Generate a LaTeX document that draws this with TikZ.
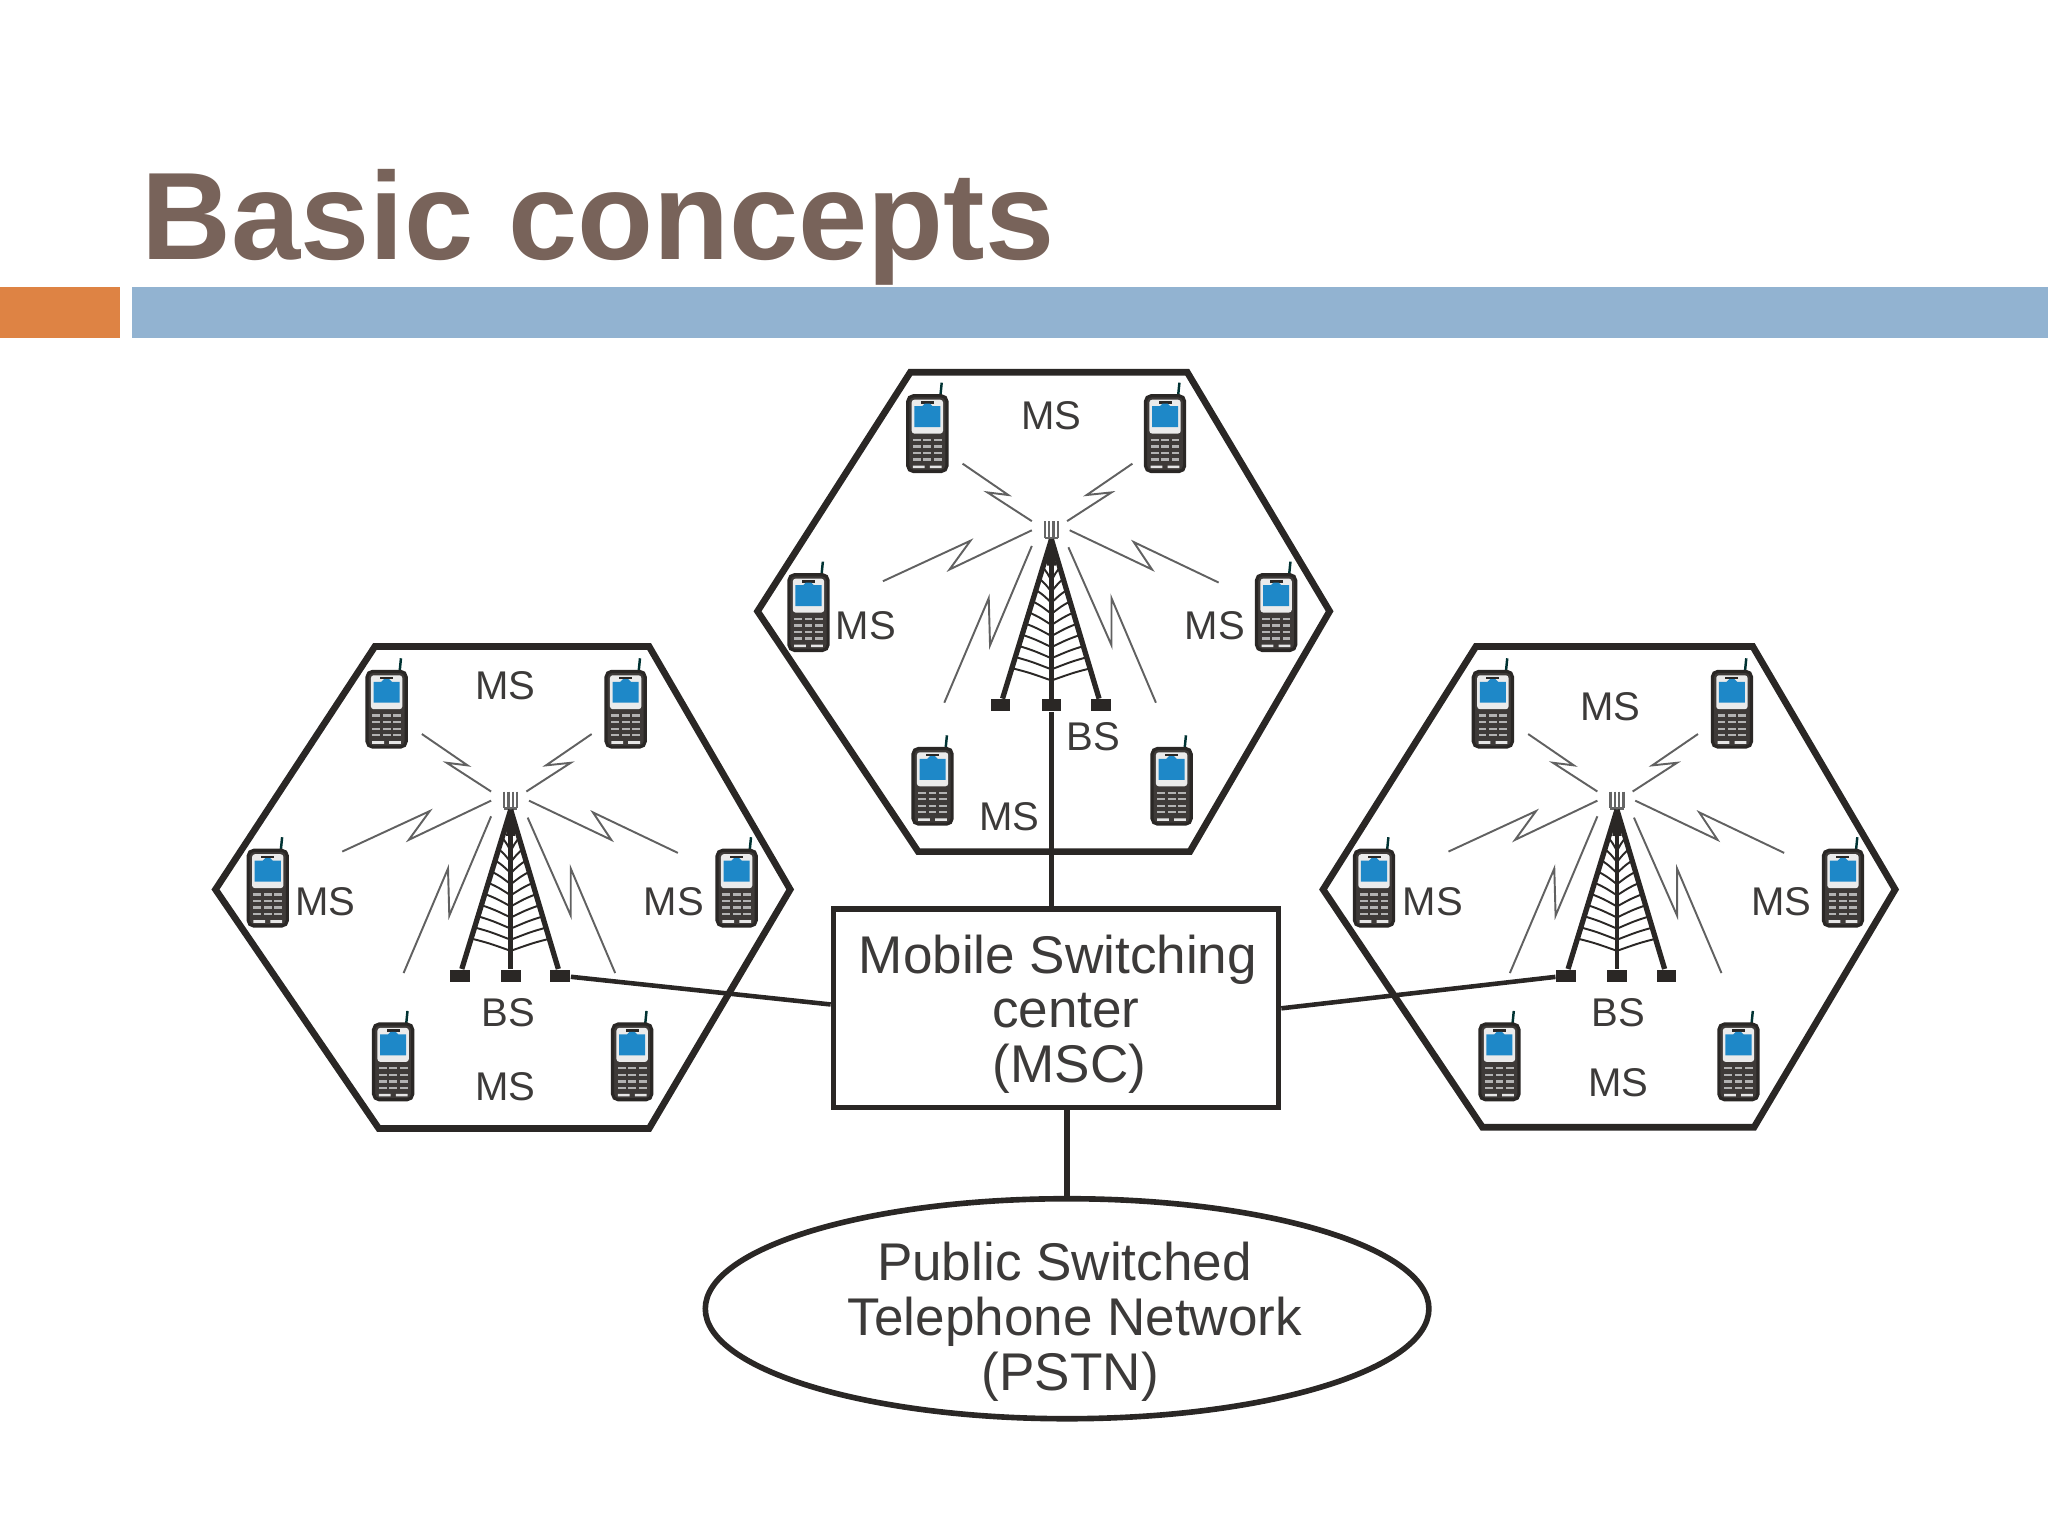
\documentclass[tikz,border=0pt]{standalone}
\usepackage{fontspec}
\setmainfont{Liberation Sans}
\usetikzlibrary{shapes.geometric}
\definecolor{titlebrown}{HTML}{78635A}
\definecolor{barorange}{HTML}{DE8344}
\definecolor{barblue}{HTML}{92B3D1}
\definecolor{inkdark}{HTML}{2A2725}
\definecolor{txtgray}{HTML}{3C3A39}
\definecolor{screenblue}{HTML}{1E88C8}
\definecolor{keypadgray}{HTML}{3E3A38}
\tikzset{
  cellline/.style={draw=inkdark, line width=1.9pt, line join=miter},
  link/.style={draw=black!62, line width=0.55pt},
  wire/.style={draw=inkdark, line width=1.3pt},
  lbl/.style={text=txtgray, font=\fontsize{11.4}{13.7}\selectfont, inner sep=0pt},
  biglbl/.style={text=txtgray, font=\fontsize{15.1}{15.6}\selectfont, align=center, inner sep=0pt},
  foot/.style={fill=inkdark, draw=none, minimum width=5.6pt, minimum height=3.4pt, inner sep=0pt},
  pics/phone/.style={code={
    \draw[line width=0.7pt, draw=black!60!teal] (10,-29) -- (11,-39);
    \draw[line width=0.9pt, draw=inkdark, fill=keypadgray, rounded corners=1.6pt] (-15,-29) rectangle (15,29);
    \fill[black!8, rounded corners=0.8pt] (-12,-26) rectangle (12,0);
    \fill[inkdark] (-5,-25) rectangle (5,-23);
    \fill[screenblue] (-10,-21) -- (-4,-21) -- (-2,-23) -- (2,-23) -- (4,-21) -- (10,-21) -- (10,-5) -- (-10,-5) -- cycle;
    \foreach \ky in {5,10,15,20}
      \foreach \kx in {-8,0,8}
        \fill[black!30] (\kx-3,\ky-1) rectangle (\kx+3,\ky+0.8);
    \fill[white!90!black] (-11,24.5) rectangle (-2,26.5) (2,24.5) rectangle (11,26.5);
  }},
  % tower with its radio links, origin on the antenna
  pics/tower/.style={code={
    \draw[link] (-68,-50) -- (-33,-26) -- (-49,-28) -- (-15,-6);
    \draw[link] (62,-50) -- (27,-26) -- (46,-28) -- (12,-6);
    \draw[link] (-129,40) -- (-62,9) -- (-78,31) -- (-15,1);
    \draw[link] (128,41) -- (63,10) -- (77,31) -- (14,1);
    \draw[link] (-82,133) -- (-48,53) -- (-47,89) -- (-15,13);
    \draw[link] (80,133) -- (46,53) -- (46,89) -- (13,14);
    \draw[black!60, line width=0.7pt] (-5,-6) -- (-5,7) (-1.7,-6) -- (-1.7,7) (1.7,-6) -- (1.7,7) (5,-6) -- (5,7) (-5,7) -- (5,7);
    \foreach \ry in {22,30.5,...,108}
      \draw[inkdark, line width=0.55pt]
        ({-37*(\ry-12)/123},\ry) .. controls ({-22*(\ry-12)/123},{\ry+3}) .. (0,{\ry+9})
        .. controls ({22*(\ry-12)/123},{\ry+3}) .. ({37*(\ry-12)/123},\ry);
    \node[foot] (L) at (-39,135) {};
    \node[foot] (M) at (0,135) {};
    \node[foot] (R) at (38,135) {};
    \coordinate (top) at (0,8);
    \fill[inkdark] (-2,8) -- (2,8) -- (3.5,28) -- (-3.5,28) -- cycle;
    \draw[wire, line width=1.5pt] (top) -- (L) (top) -- (R);
    \draw[wire] (top) -- (M);
  }}
}
\begin{document}
\begin{tikzpicture}[x=0.0130612cm, y=-0.0130612cm]
\useasboundingbox (0,0) rectangle (1568,1176);

% --- title and bars ---
\node[anchor=base west, inner sep=0pt, text=titlebrown, font=\fontsize{35.4}{40}\selectfont\bfseries] (title) at (108,199) {Basic concepts};
\fill[barorange] (0,220) rectangle (92,259);
\fill[barblue] (101,220) rectangle (1568,259);

% --- hexagons ---
\draw[cellline] (697,285) -- (909,285) -- (1018,468) -- (911,652) -- (703,652) -- (580,468) -- cycle;
\draw[cellline] (287,495) -- (497,495) -- (605,681) -- (497,864) -- (290,864) -- (165,681) -- cycle;
\draw[cellline] (1130,495) -- (1342,495) -- (1451,681) -- (1343,863) -- (1135,863) -- (1013,681) -- cycle;

% --- towers ---
\pic (c) at (805,405) {tower};
\pic (a) at (391,612) {tower};
\pic (b) at (1238,612) {tower};

% --- phones ---
\foreach \px/\py in {710/332, 892/332, 619/469, 977/469, 714/602, 897/602,
                     296/543, 479/543, 205/680, 564/680, 301/813, 484/813,
                     1143/543, 1326/543, 1052/680, 1411/680, 1148/813, 1331/813}
  \pic at (\px,\py) {phone};

% --- labels ---
\node[lbl] (ms1) at (805,318) {MS};
\node[lbl] (ms2) at (663,479) {MS};
\node[lbl] (ms3) at (930,479) {MS};
\node[lbl] (ms4) at (773,625) {MS};
\node[lbl] (bs1) at (837,564) {BS};
\node[lbl] (ms5) at (387,525) {MS};
\node[lbl] (ms6) at (249,690) {MS};
\node[lbl] (ms7) at (516,690) {MS};
\node[lbl] (ms8) at (387,832) {MS};
\node[lbl] (bs2) at (389,775) {BS};
\node[lbl] (ms9) at (1233,541) {MS};
\node[lbl] (ms10) at (1097,690) {MS};
\node[lbl] (ms11) at (1364,690) {MS};
\node[lbl] (ms12) at (1239,829) {MS};
\node[lbl] (bs3) at (1239,775) {BS};

% --- MSC and PSTN ---
\node[draw=inkdark, line width=1.6pt, fill=white, minimum width=4.45cm, minimum height=1.985cm, inner sep=0pt] (msc) at (808.5,772) {};
\node[biglbl] (msctext) at (810,776.5) {Mobile Switching\\\hspace*{4.5pt}center\\\hspace*{6.5pt}(MSC)};
\node[ellipse, draw=inkdark, line width=1.6pt, fill=white, minimum width=7.236cm, minimum height=2.2cm, inner sep=0pt] (pstn) at (817,1002) {};
\node[biglbl] (pstntext) at (823,1012) {Public Switched\hspace*{6pt}\\Telephone Network\\(PSTN)\hspace*{2.6pt}};

% --- connectors ---
\draw[wire] (cM) -- (cM |- msc.north);
\draw[wire] (aR) -- ([yshift=1.1pt]msc.west);
\draw[wire] (bL) -- (msc.east);
\draw[cellline] (pstn.north) -- (pstn.north |- msc.south);
\end{tikzpicture}
\end{document}
